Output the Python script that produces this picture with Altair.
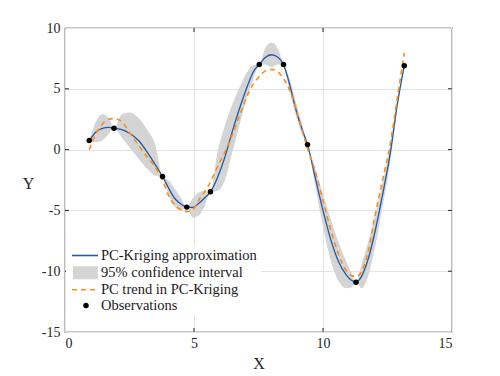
import altair as alt
import pandas as pd

# ---- data ----
xs = [0.94, 1.2, 1.45, 1.7, 1.9, 2.2, 2.5, 2.85, 3.2, 3.5, 3.78, 4.0, 4.25, 4.5, 4.72,
      4.95, 5.2, 5.4, 5.64, 5.9, 6.2, 6.5, 6.8, 7.1, 7.3, 7.53, 7.75, 8.0, 8.25, 8.47,
      8.7, 8.95, 9.2, 9.4, 9.7, 10.0, 10.3, 10.6, 10.9, 11.1, 11.28, 11.5, 11.75, 12.0,
      12.3, 12.6, 12.9, 13.15]
kriging = [0.74, 1.45, 1.75, 1.82, 1.75, 1.65, 1.35, 0.75, -0.25, -1.25, -2.21, -3.1, -4.0,
           -4.5, -4.73, -4.75, -4.4, -4.0, -3.47, -2.35, -0.6, 1.6, 3.6, 5.4, 6.4, 7.0, 7.55,
           7.8, 7.6, 7.0, 5.4, 3.3, 1.6, 0.41, -2.3, -5.0, -7.4, -9.2, -10.3, -10.75, -10.9,
           -10.4, -9.0, -6.9, -3.8, -0.4, 4.0, 6.89]
trend = [0.0, 1.3, 2.1, 2.5, 2.55, 2.3, 1.4, 0.35, -0.65, -1.45, -2.5, -3.7, -4.55, -4.95,
         -5.1, -4.95, -4.1, -3.5, -2.65, -1.45, -0.2, 1.3, 3.0, 4.6, 5.4, 6.0, 6.45, 6.6, 6.4,
         5.85, 4.9, 3.4, 1.5, 0.1, -1.8, -4.2, -6.6, -8.6, -9.95, -10.35, -10.45, -10.0, -8.4,
         -5.6, -2.6, 0.4, 4.5, 7.95]
ci_low = [0.74, 0.6, 0.75, 1.3, 1.75, 1.0, 0.2, -0.75, -1.6, -2.15, -2.21, -3.6, -4.7, -5.0,
          -4.73, -5.6, -5.4, -4.7, -3.47, -3.4, -2.5, -0.1, 2.3, 4.6, 5.8, 7.0, 7.0, 6.8, 7.0,
          7.0, 4.9, 2.8, 1.2, 0.41, -3.0, -6.3, -9.1, -10.8, -11.4, -11.35, -10.9, -11.4,
          -10.4, -8.2, -4.8, -1.1, 3.6, 6.89]
ci_high = [0.74, 2.3, 2.9, 2.6, 1.75, 2.9, 3.05, 2.6, 1.6, 0.4, -2.21, -2.5, -3.2, -4.0,
           -4.73, -4.0, -3.5, -3.4, -3.47, -0.3, 2.0, 3.8, 5.3, 6.5, 6.95, 7.0, 8.3, 8.8, 8.3,
           7.0, 5.9, 3.9, 2.0, 0.41, -1.6, -3.7, -5.7, -7.6, -9.2, -10.15, -10.9, -9.4, -7.6,
           -5.6, -2.8, 0.3, 4.4, 6.89]
obs_x = [0.94, 1.90, 3.78, 4.72, 5.64, 7.53, 8.47, 9.40, 11.28, 13.15]
obs_y = [0.74, 1.75, -2.21, -4.73, -3.47, 7.0, 7.0, 0.41, -10.9, 6.89]
x_ticks = [0, 5, 10, 15]
y_ticks = [-15, -10, -5, 0, 5, 10]
legend_labels = ["PC-Kriging approximation", "95% confidence interval",
                 "PC trend in PC-Kriging", "Observations"]

curve = pd.DataFrame({"x": xs, "k": kriging, "t": trend, "lo": ci_low, "hi": ci_high})
obs = pd.DataFrame({"x": obs_x, "y": obs_y})
xt = pd.DataFrame({"v": x_ticks[1:-1]})
yt = pd.DataFrame({"v": y_ticks[1:-1]})

W, H = 387, 304
BLUE = "#1f5aa6"
ORANGE = "#ff8c1a"
GRAY = "#d4d4d4"
FONT = "Liberation Serif"
xsc = alt.Scale(domain=[0, 15], nice=False)
ysc = alt.Scale(domain=[-15, 10], nice=False)

xaxis = alt.Axis(values=x_ticks, title="X", grid=True, ticks=False, domain=False,
                 labelPadding=4, titleY=31, titleBaseline="middle",
                 labelExpr="toString(datum.value)")
yaxis = alt.Axis(values=y_ticks, title="Y", grid=True, ticks=False, domain=False,
                 labelPadding=5, titleAngle=0, titleX=-37, titleY=155,
                 titleAlign="center", titleBaseline="middle",
                 labelExpr="toString(datum.value)")

band = alt.Chart(curve).mark_area(color=GRAY, interpolate="monotone", opacity=1).encode(
    x=alt.X("x:Q", scale=xsc, axis=xaxis),
    y=alt.Y("lo:Q", scale=ysc, axis=yaxis),
    y2="hi:Q",
)
krig = alt.Chart(curve).mark_line(color=BLUE, strokeWidth=1.3, interpolate="monotone").encode(
    x="x:Q", y="k:Q")
trnd = alt.Chart(curve).mark_line(color=ORANGE, strokeWidth=1.6, strokeDash=[5, 4],
                                  interpolate="monotone").encode(x="x:Q", y="t:Q")
pts = alt.Chart(obs).mark_circle(color="black", size=30, opacity=1).encode(x="x:Q", y="y:Q")

tick_style = dict(color="#262626", strokeWidth=1)
tb = alt.Chart(xt).mark_rule(**tick_style).encode(x="v:Q", y=alt.value(H), y2=alt.value(H - 4))
tt = alt.Chart(xt).mark_rule(**tick_style).encode(x="v:Q", y=alt.value(0), y2=alt.value(4))
tl = alt.Chart(yt).mark_rule(**tick_style).encode(y="v:Q", x=alt.value(0), x2=alt.value(4))
tr = alt.Chart(yt).mark_rule(**tick_style).encode(y="v:Q", x=alt.value(W), x2=alt.value(W - 4))

one = alt.Data(values=[{}])
rows = [227.5, 244.8, 261.8, 277.5]
leg_bg = alt.Chart(one).mark_rect(color="white").encode(
    x=alt.value(1), x2=alt.value(196), y=alt.value(216), y2=alt.value(288))
leg_line = alt.Chart(one).mark_rule(color=BLUE, strokeWidth=1.6).encode(
    x=alt.value(7), x2=alt.value(33), y=alt.value(rows[0]))
leg_rect = alt.Chart(one).mark_rect(color=GRAY).encode(
    x=alt.value(8), x2=alt.value(33), y=alt.value(rows[1] - 6.5), y2=alt.value(rows[1] + 6.5))
leg_dash = alt.Chart(one).mark_rule(color=ORANGE, strokeWidth=1.6, strokeDash=[5, 4]).encode(
    x=alt.value(7), x2=alt.value(33), y=alt.value(rows[2]))
leg_pt = alt.Chart(one).mark_circle(color="black", size=30, opacity=1).encode(
    x=alt.value(21), y=alt.value(rows[3]))
leg_texts = [
    alt.Chart(one).mark_text(font=FONT, fontSize=14.5, align="left", baseline="middle",
                             color="#1a1a1a").encode(
        x=alt.value(36), y=alt.value(r), text=alt.value(lbl))
    for r, lbl in zip(rows, legend_labels)
]

chart = alt.layer(band, krig, trnd, pts, tb, tt, tl, tr,
                  leg_bg, leg_line, leg_rect, leg_dash, leg_pt, *leg_texts).properties(
    width=W, height=H,
    autosize=alt.AutoSizeParams(type="none"),
    padding={"left": 57, "top": 20, "right": 40, "bottom": 44},
).configure_view(stroke="#262626", strokeWidth=1.2).configure_axis(
    labelFont=FONT, labelFontSize=14, labelColor="#262626",
    titleFont=FONT, titleFontSize=16, titleFontWeight="normal", titleColor="#262626",
    gridColor="#e3e3e3", gridWidth=1,
)

chart.save("out.html", embed_options={"renderer": "svg", "actions": False})
